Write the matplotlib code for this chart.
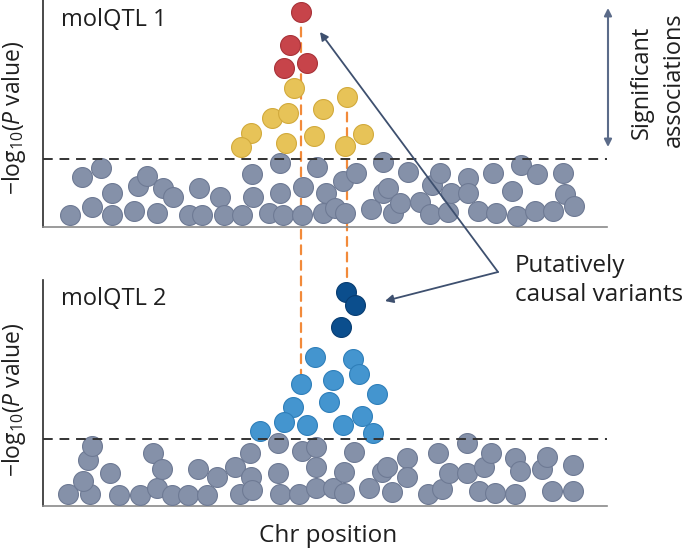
import matplotlib
matplotlib.use("Agg")
import matplotlib.pyplot as plt
from matplotlib.patches import ConnectionPatch

plt.rcParams['font.family'] = ['Open Sans', 'DejaVu Sans']
plt.rcParams['mathtext.fontset'] = 'custom'
plt.rcParams['mathtext.rm'] = 'Open Sans'
plt.rcParams['mathtext.it'] = 'Open Sans:italic'

# ---------------- data (position, -log10 P score) ----------------
top_gray_x = [70, 82, 101, 92, 112, 112, 134, 138, 147, 157, 163, 173, 189, 199, 202, 220, 224, 242,
              252, 253, 269, 280, 280, 283, 302, 303, 317, 323, 326, 335, 345, 343, 356, 371, 383, 383,
              388, 393, 400, 408, 420, 430, 432, 440, 448, 451, 468, 468, 478, 493, 496, 512, 517, 521,
              535, 537, 553, 563, 565, 574]
top_gray_y = [1.2, 5.0, 5.9, 2.0, 3.4, 1.2, 1.6, 4.1, 5.1, 1.4, 3.9, 3.0, 1.2, 3.9, 1.2, 3.0, 1.2, 1.2,
              5.3, 3.0, 1.4, 6.4, 3.4, 1.2, 1.2, 4.0, 6.0, 1.4, 3.4, 1.9, 1.4, 4.6, 5.4, 1.8, 6.5, 3.4,
              3.9, 1.4, 2.4, 5.5, 2.5, 1.3, 4.2, 5.4, 1.5, 3.4, 4.9, 3.4, 1.6, 5.4, 1.4, 3.6, 1.1, 6.2,
              1.6, 5.3, 1.6, 5.4, 3.3, 2.1]
top_yellow_x = [294, 272, 288, 323, 251, 241, 286, 314, 347, 345, 363]
top_yellow_y = [13.9, 10.9, 11.4, 11.8, 9.4, 8.0, 8.4, 9.1, 13.0, 8.1, 9.3]
top_red_x = [301, 290, 284, 307]
top_red_y = [21.5, 18.2, 15.9, 16.4]

bot_gray_x = [68, 90, 83, 88, 92, 110, 119, 140, 153, 157, 162, 172, 188, 198, 207, 217, 235, 240,
              250, 251, 252, 278, 278, 280, 299, 302, 316, 316, 316, 333, 344, 344, 354, 369, 382, 387,
              392, 407, 407, 428, 438, 442, 449, 467, 467, 479, 484, 491, 495, 515, 515, 520, 542, 547,
              552, 573, 573]
bot_gray_y = [1.2, 1.2, 2.5, 4.6, 6.0, 3.3, 1.1, 1.1, 5.3, 1.8, 3.7, 1.1, 1.1, 3.7, 1.1, 2.9, 3.9, 1.2,
              5.3, 2.9, 1.6, 6.3, 3.3, 1.2, 1.2, 5.5, 5.9, 3.9, 1.8, 1.8, 3.4, 1.3, 5.4, 1.8, 3.4, 3.9,
              1.4, 4.8, 2.9, 1.2, 5.3, 1.7, 3.3, 6.3, 3.3, 1.5, 3.9, 5.3, 1.3, 4.8, 1.2, 3.5, 3.7, 4.9,
              1.5, 4.1, 1.5]
bot_blue_x = [315, 301, 333, 293, 329, 284, 307, 260, 353, 359, 377, 343, 362, 373]
bot_blue_y = [14.9, 12.2, 12.6, 9.9, 10.4, 8.4, 8.1, 7.5, 14.7, 13.2, 11.2, 8.1, 9.0, 7.3]
bot_dark_x = [346, 355, 341]
bot_dark_y = [21.4, 20.1, 17.9]

threshold_top = 6.8
threshold_bot = 6.7

# causal variant links (position, top score, bottom score)
link_x = [301, 347]
link_top = [21.5, 13.0]
link_bot = [12.2, 21.4]

# ---------------- styling ----------------
GRAY, GRAY_E = '#8591a9', '#6e7a94'
YEL, YEL_E = '#e7c358', '#d2aa3c'
RED, RED_E = '#c7444a', '#a83238'
BLU, BLU_E = '#4495cf', '#2f7fba'
DBL, DBL_E = '#0b4e8d', '#083d72'
ORANGE = '#f28a3a'
ARROW = '#3e506f'
MS = 205

W, H = 685, 552
fig = plt.figure(figsize=(W / 100, H / 100), dpi=100)

def fx(px):
    return px / W

def fy(py):
    return 1 - py / H

ax1 = fig.add_axes([fx(43), fy(227), fx(607 - 43), 227 / H])
ax2 = fig.add_axes([fx(43), fy(506), fx(607 - 43), (506 - 280) / H])
ax1.set_ylim(0, 22.7)
ax2.set_ylim(0, 22.6)

for ax in (ax1, ax2):
    ax.set_xlim(43, 607)
    ax.set_facecolor('none')
    ax.set_xticks([])
    ax.set_yticks([])
    for s in ('top', 'right'):
        ax.spines[s].set_visible(False)
    ax.spines['left'].set_color('#2b2b2b')
    ax.spines['left'].set_linewidth(1.2)
    ax.spines['bottom'].set_color('#8a8a8a')
    ax.spines['bottom'].set_linewidth(1.2)

def pts(ax, x, y, fc, ec):
    ax.scatter(x, y, s=MS, facecolor=fc, edgecolor=ec, linewidth=0.8, zorder=3, clip_on=False)

pts(ax1, top_gray_x, top_gray_y, GRAY, GRAY_E)
pts(ax1, top_yellow_x, top_yellow_y, YEL, YEL_E)
pts(ax1, top_red_x, top_red_y, RED, RED_E)
pts(ax2, bot_gray_x, bot_gray_y, GRAY, GRAY_E)
pts(ax2, bot_blue_x, bot_blue_y, BLU, BLU_E)
pts(ax2, bot_dark_x, bot_dark_y, DBL, DBL_E)

ax1.axhline(threshold_top, color='#333333', lw=1.4, ls=(0, (5, 3.5)), zorder=4)
ax2.axhline(threshold_bot, color='#333333', lw=1.4, ls=(0, (5, 3.5)), zorder=4)

# orange dashed links behind points
for x, yt, yb in zip(link_x, link_top, link_bot):
    con = ConnectionPatch(xyA=(x, yt), coordsA=ax1.transData,
                          xyB=(x, yb), coordsB=ax2.transData,
                          color=ORANGE, lw=1.6, ls=(0, (4, 3)), zorder=-1)
    fig.add_artist(con)

# arrows from label
apex = (498, 23.4)
ax2.annotate('', xy=(320, 19.5), xycoords=ax1.transData, xytext=apex, textcoords=ax2.transData,
             arrowprops=dict(arrowstyle='-|>', color=ARROW, lw=1.3, mutation_scale=12,
                             shrinkA=0, shrinkB=0), annotation_clip=False)
ax2.annotate('', xy=(385, 20.5), xycoords=ax2.transData, xytext=apex, textcoords=ax2.transData,
             arrowprops=dict(arrowstyle='-|>', color=ARROW, lw=1.3, mutation_scale=12,
                             shrinkA=0, shrinkB=0), annotation_clip=False)

# significant associations double arrow
ax1.annotate('', xy=(608, 21.9), xytext=(608, 8.0),
             arrowprops=dict(arrowstyle='<|-|>', color='#5b6b89', lw=1.5, mutation_scale=11,
                             shrinkA=0, shrinkB=0), annotation_clip=False)

FS = 17.5
TXT = '#1f1f1f'
fig.text(fx(61), fy(20), 'molQTL 1', fontsize=17, va='center', ha='left', color=TXT)
fig.text(fx(61), fy(299), 'molQTL 2', fontsize=17, va='center', ha='left', color=TXT)
ylab = '−log$_{10}$($P$ value)'
fig.text(fx(14), fy(118), ylab, fontsize=16.5, rotation=90, va='center', ha='center', color=TXT)
fig.text(fx(14), fy(400), ylab, fontsize=16.5, rotation=90, va='center', ha='center', color=TXT)
fig.text(fx(328), fy(536), 'Chr position', fontsize=FS, va='center', ha='center', color=TXT)
fig.text(fx(515), fy(266), 'Putatively', fontsize=FS, va='center', ha='left', color=TXT)
fig.text(fx(515), fy(295), 'causal variants', fontsize=FS, va='center', ha='left', color=TXT)
fig.text(fx(642), fy(82), 'Significant', fontsize=17, rotation=90, va='center', ha='center', color=TXT)
fig.text(fx(674), fy(80), 'associations', fontsize=17, rotation=90, va='center', ha='center', color=TXT)

fig.savefig('out.png', dpi=100)
